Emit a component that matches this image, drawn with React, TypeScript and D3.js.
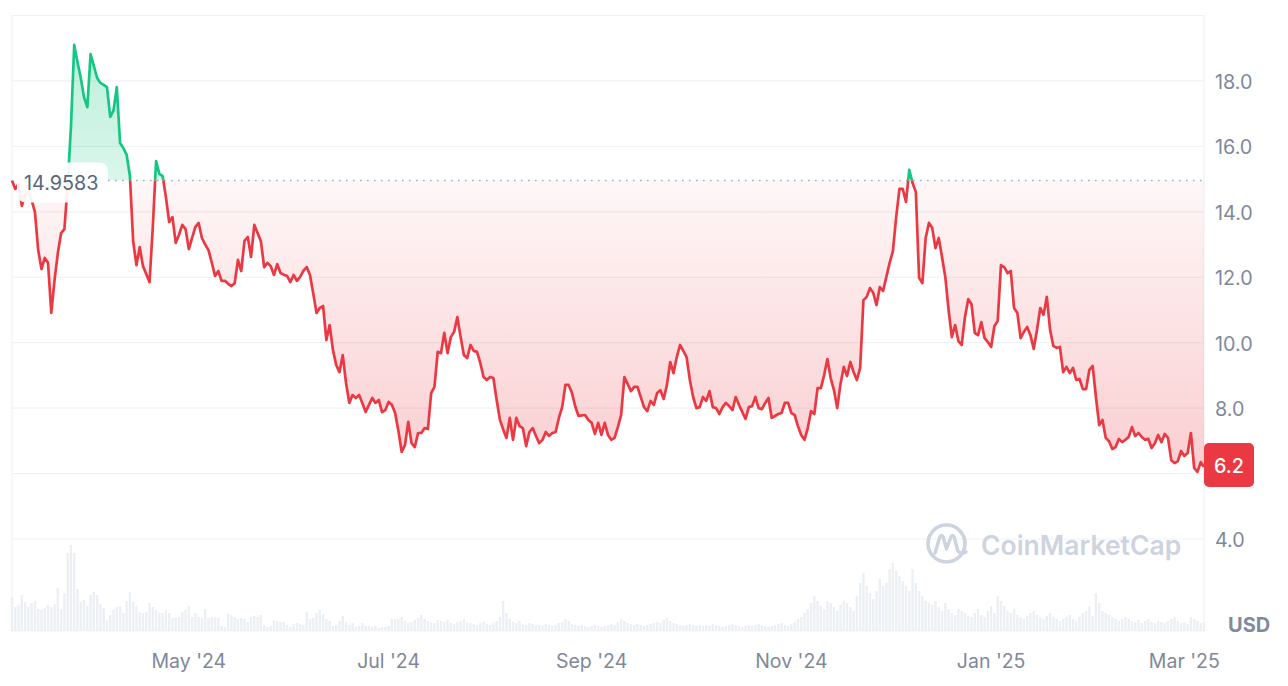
import React, { useRef, useEffect } from 'react';
import * as d3 from 'd3';

// daily series, first day below, one value per day
const startDate = new Date(2024, 2, 8);
const endDate = new Date(2025, 2, 7);
const baselinePrice = 14.9583;
const lastPriceLabel = '6.2';

const prices = [
  14.96, 14.70, 14.85, 14.18, 14.51, 14.61, 14.36, 13.99, 12.83, 12.25,
  12.59, 12.44, 10.91, 11.92, 12.74, 13.35, 13.47, 14.82, 16.59, 19.10,
  18.58, 18.09, 17.50, 17.20, 18.82, 18.45, 18.09, 17.94, 17.88, 17.81,
  16.90, 17.10, 17.81, 16.10, 15.95, 15.75, 15.10, 13.10, 12.37, 12.92,
  12.34, 12.10, 11.85, 13.54, 15.55, 15.16, 15.09, 14.45, 13.69, 13.84,
  13.05, 13.30, 13.60, 13.47, 12.86, 13.20, 13.54, 13.66, 13.20, 13.00,
  12.83, 12.45, 12.04, 12.19, 11.89, 11.89, 11.80, 11.73, 11.82, 12.53,
  12.19, 13.11, 13.23, 12.62, 13.60, 13.35, 13.10, 12.31, 12.44, 12.34,
  12.07, 12.40, 12.13, 12.08, 12.04, 11.85, 12.07, 11.89, 12.01, 12.20,
  12.31, 12.07, 11.50, 10.91, 11.06, 11.12, 10.08, 10.54, 9.78, 9.32,
  9.10, 9.62, 8.77, 8.16, 8.40, 8.31, 8.40, 8.15, 7.88, 8.10,
  8.31, 8.16, 8.25, 7.88, 7.94, 8.19, 8.10, 7.85, 7.30, 6.66,
  6.87, 7.58, 6.93, 6.81, 7.24, 7.24, 7.39, 7.36, 8.46, 8.65,
  9.72, 9.68, 10.30, 9.68, 10.17, 10.33, 10.78, 10.17, 9.62, 9.53,
  9.93, 9.75, 9.72, 9.38, 8.95, 8.86, 8.95, 8.92, 8.25, 7.64,
  7.35, 7.09, 7.70, 7.03, 7.70, 7.45, 7.39, 6.84, 7.27, 7.39,
  7.15, 6.93, 7.03, 7.27, 7.15, 7.24, 7.27, 7.70, 8.03, 8.71,
  8.71, 8.46, 8.05, 7.76, 7.78, 7.79, 7.64, 7.55, 7.21, 7.55,
  7.18, 7.55, 7.18, 7.03, 7.09, 7.42, 7.79, 8.95, 8.74, 8.52,
  8.65, 8.65, 8.34, 8.03, 7.91, 8.22, 8.10, 8.46, 8.55, 8.28,
  8.71, 9.41, 9.07, 9.56, 9.93, 9.75, 9.56, 8.86, 8.34, 8.00,
  8.03, 8.34, 8.22, 8.52, 8.03, 8.00, 7.82, 8.03, 8.16, 8.06,
  7.94, 8.34, 8.10, 7.88, 7.67, 8.03, 8.06, 8.34, 8.00, 7.97,
  8.16, 8.31, 7.70, 7.76, 7.82, 7.85, 8.16, 8.16, 7.85, 7.79,
  7.45, 7.18, 7.03, 7.39, 7.91, 7.82, 8.61, 8.61, 9.01, 9.50,
  8.92, 8.55, 8.00, 8.74, 9.26, 8.98, 9.41, 9.10, 8.86, 9.23,
  11.30, 11.40, 11.67, 11.52, 11.15, 11.70, 11.58, 12.01, 12.44, 12.80,
  13.84, 14.70, 14.70, 14.30, 15.28, 14.88, 14.61, 11.98, 11.82, 13.20,
  13.66, 13.51, 12.89, 13.20, 12.62, 12.01, 11.00, 10.17, 10.54, 10.05,
  9.93, 10.78, 11.33, 11.18, 10.30, 10.23, 10.63, 10.14, 10.02, 9.87,
  10.51, 10.66, 12.37, 12.31, 12.13, 12.19, 11.06, 10.91, 10.14, 10.33,
  10.48, 10.23, 9.81, 10.39, 11.06, 10.85, 11.40, 10.39, 9.90, 9.84,
  9.87, 9.10, 9.26, 9.07, 9.23, 8.86, 8.89, 8.58, 8.58, 9.17,
  9.29, 8.34, 7.48, 7.64, 7.09, 6.99, 6.75, 6.81, 7.06, 6.96,
  7.03, 7.12, 7.42, 7.15, 7.24, 7.12, 7.03, 7.06, 6.78, 6.93,
  7.18, 6.96, 7.21, 7.09, 6.41, 6.32, 6.38, 6.69, 6.54, 6.63,
  7.24, 6.17, 6.05, 6.35, 6.20,
];

// volume, arbitrary units (millions)
const volumes = [
  34, 24, 26, 36, 29, 24, 28, 30, 22, 21, 23, 26, 24, 27, 43, 22, 38, 78, 86, 78,
  42, 29, 31, 25, 36, 39, 36, 27, 23, 11, 16, 21, 24, 25, 18, 30, 39, 29, 25, 19,
  18, 19, 28, 24, 21, 18, 18, 21, 18, 13, 13, 14, 19, 21, 25, 14, 18, 14, 13, 22,
  13, 14, 14, 13, 5, 4, 17, 16, 14, 12, 13, 12, 9, 14, 15, 14, 16, 6, 4, 5,
  11, 10, 9, 9, 6, 4, 7, 8, 7, 6, 19, 12, 13, 18, 21, 17, 12, 10, 5, 6,
  10, 15, 9, 6, 8, 4, 5, 8, 5, 5, 4, 5, 3, 4, 4, 5, 12, 12,
  12, 14, 10, 8, 9, 11, 13, 16, 12, 10, 9, 8, 11,
  10, 9, 11, 8, 7, 9, 10, 12, 9, 8, 7, 6, 8, 9, 7, 6, 8,
  10, 14, 30, 18, 12, 9, 8, 10, 7, 6, 8, 7, 6,
  6, 5, 7, 6, 5, 6, 8, 9, 12, 10, 7, 6, 5, 6, 5, 4, 5, 6, 5, 4, 5, 6, 7, 6, 9,
  12, 10, 8, 7, 6, 7, 6, 5, 6, 7, 8, 9, 8, 11, 13, 10, 8, 7, 6, 5, 6, 7, 6, 5, 6,
  5, 6, 5, 7, 6, 5, 4, 5, 6, 7, 6, 5, 4, 5, 6, 5, 6, 7, 6, 5, 4, 5, 6, 7, 8, 6, 5, 7, 9, 12,
  14, 18, 22, 28, 35, 30, 25, 22, 30, 28, 24, 20, 26, 30, 28, 24, 20, 35, 48, 58,
  45, 38, 32, 40, 52, 45, 48, 62, 68, 60, 55, 50, 45, 40, 62, 48, 40, 35, 30, 28,
  26, 30, 24, 20, 28, 22, 18, 16, 22, 20, 18, 15, 14, 18, 22, 16, 14, 20, 25, 18,
  35, 30, 25, 20, 18, 22, 16, 14, 12, 15, 18, 20, 16, 14, 12, 15, 18, 14, 12, 10,
  12, 14, 16, 12, 10, 14, 18, 20, 25, 15, 38, 28, 20, 18, 16, 14, 12, 10, 12, 14,
  12, 10, 9, 11, 8, 10, 12, 9, 8, 10, 9, 8, 10, 12, 14, 10, 8, 9, 7, 14, 12, 10, 8, 9,
];

const priceTicks = [4, 6, 8, 10, 12, 14, 16, 18, 20];
const monthTicks = ['2024-05-01', '2024-07-01', '2024-09-01', '2024-11-01', '2025-01-01', '2025-03-01'];

const RED = '#ea3943';
const GREEN = '#16c784';

export default function App() {
  const svgRef = useRef<SVGSVGElement>(null);

  useEffect(() => {
    if (!svgRef.current) return;
    const svg = d3.select(svgRef.current);
    svg.selectAll('*').remove();

    const width = 1288;
    const height = 686;
    const left = 12;
    const right = 1204;
    const volBottom = 631;

    const data = prices.map((p, i) => ({
      date: d3.timeDay.offset(startDate, i),
      price: p,
      volume: volumes[i] ?? 0,
    }));

    const x = d3.scaleTime().domain([startDate, endDate]).range([left, right]);
    const y = d3.scaleLinear().domain([4, 20]).range([539, 15.5]);
    const yVol = d3.scaleLinear().domain([0, 100]).range([volBottom, volBottom - 100]);
    const base = y(baselinePrice);

    const defs = svg.append('defs');
    defs.append('clipPath').attr('id', 'clip-above')
      .append('rect').attr('x', 0).attr('y', 0).attr('width', width).attr('height', base);
    defs.append('clipPath').attr('id', 'clip-below')
      .append('rect').attr('x', 0).attr('y', base).attr('width', width).attr('height', height - base);

    const redGrad = defs.append('linearGradient').attr('id', 'red-grad')
      .attr('gradientUnits', 'userSpaceOnUse')
      .attr('x1', 0).attr('x2', 0).attr('y1', base).attr('y2', y(6));
    redGrad.append('stop').attr('offset', '0%').attr('stop-color', RED).attr('stop-opacity', 0.04);
    redGrad.append('stop').attr('offset', '100%').attr('stop-color', RED).attr('stop-opacity', 0.25);

    const greenGrad = defs.append('linearGradient').attr('id', 'green-grad')
      .attr('gradientUnits', 'userSpaceOnUse')
      .attr('x1', 0).attr('x2', 0).attr('y1', y(19)).attr('y2', base);
    greenGrad.append('stop').attr('offset', '0%').attr('stop-color', GREEN).attr('stop-opacity', 0.28);
    greenGrad.append('stop').attr('offset', '100%').attr('stop-color', GREEN).attr('stop-opacity', 0.16);

    svg.append('rect').attr('width', width).attr('height', height).attr('fill', '#fff');

    // grid lines
    svg.append('g').selectAll('line')
      .data(priceTicks)
      .enter().append('line')
      .attr('x1', left).attr('x2', right)
      .attr('y1', d => y(d)).attr('y2', d => y(d))
      .attr('stroke', '#eff2f5').attr('stroke-width', 1.2);

    svg.append('line').attr('x1', left).attr('x2', left).attr('y1', y(20)).attr('y2', volBottom)
      .attr('stroke', '#eff2f5').attr('stroke-width', 1.2);
    svg.append('line').attr('x1', right).attr('x2', right).attr('y1', y(20)).attr('y2', volBottom)
      .attr('stroke', '#eff2f5').attr('stroke-width', 1.2);
    svg.append('line').attr('x1', left).attr('x2', right).attr('y1', volBottom).attr('y2', volBottom)
      .attr('stroke', '#f3f5f8').attr('stroke-width', 1);

    // volume bars
    const barW = (x(d3.timeDay.offset(startDate, 1)) - x(startDate)) * 0.72;
    svg.append('g').selectAll('rect')
      .data(data)
      .enter().append('rect')
      .attr('x', d => x(d.date) - barW / 2)
      .attr('y', d => yVol(d.volume))
      .attr('width', barW)
      .attr('height', d => volBottom - yVol(d.volume))
      .attr('fill', '#eceff3');

    // watermark
    const wm = svg.append('g');
    wm.append('circle').attr('cx', 946.5).attr('cy', 543.5).attr('r', 18.5)
      .attr('fill', 'none').attr('stroke', '#cdd3df').attr('stroke-width', 3.6);
    wm.append('path')
      .attr('d', 'M935 553 L939.5 538 Q941.5 533 943.5 538 L946.5 549 L950.5 538 Q952.5 533 954.5 538 L957.5 550 Q959.5 555 966 552')
      .attr('fill', 'none').attr('stroke', '#cdd3df').attr('stroke-width', 3.4)
      .attr('stroke-linecap', 'round').attr('stroke-linejoin', 'round');
    wm.append('text').attr('x', 981).attr('y', 545)
      .attr('dominant-baseline', 'central')
      .attr('font-size', 26.5).attr('font-weight', 600)
      .attr('fill', '#cdd3df')
      .text('CoinMarketCap');

    const area = d3.area<{ date: Date; price: number }>()
      .x(d => x(d.date))
      .y0(base)
      .y1(d => y(d.price));
    const line = d3.line<{ date: Date; price: number }>()
      .x(d => x(d.date))
      .y(d => y(d.price));

    svg.append('path').datum(data).attr('d', area)
      .attr('fill', 'url(#green-grad)').attr('clip-path', 'url(#clip-above)');
    svg.append('path').datum(data).attr('d', area)
      .attr('fill', 'url(#red-grad)').attr('clip-path', 'url(#clip-below)');

    // baseline
    svg.append('line').attr('x1', 108).attr('x2', right).attr('y1', base).attr('y2', base)
      .attr('stroke', '#a6b0c3').attr('stroke-width', 1.6)
      .attr('stroke-dasharray', '1.6,5.4');

    svg.append('path').datum(data).attr('d', line)
      .attr('fill', 'none').attr('stroke', GREEN).attr('stroke-width', 2.7)
      .attr('stroke-linejoin', 'round').attr('clip-path', 'url(#clip-above)');
    svg.append('path').datum(data).attr('d', line)
      .attr('fill', 'none').attr('stroke', RED).attr('stroke-width', 2.7)
      .attr('stroke-linejoin', 'round').attr('clip-path', 'url(#clip-below)');

    // baseline label
    svg.append('rect').attr('x', 17).attr('y', base - 18).attr('width', 91).attr('height', 40)
      .attr('rx', 8).attr('fill', '#fff').attr('opacity', 0.92);
    svg.append('text').attr('x', 24).attr('y', base + 3)
      .attr('dominant-baseline', 'central')
      .attr('font-size', 19.8).attr('fill', '#58667e')
      .text(d3.format('.4f')(baselinePrice));

    // y axis labels
    const lastY = y(prices[prices.length - 1]);
    svg.append('g').selectAll('text')
      .data(priceTicks.filter(t => t < 20 && Math.abs(y(t) - lastY) > 24))
      .enter().append('text')
      .attr('x', 1215).attr('y', d => y(d) + 1)
      .attr('dominant-baseline', 'central')
      .attr('font-size', 19.8).attr('fill', '#7f889b')
      .text(d => d3.format('.1f')(d));

    // last price badge
    svg.append('rect').attr('x', right).attr('y', lastY - 24).attr('width', 50).attr('height', 44)
      .attr('rx', 5).attr('fill', RED);
    svg.append('text').attr('x', right + 25).attr('y', lastY - 1)
      .attr('text-anchor', 'middle').attr('dominant-baseline', 'central')
      .attr('font-size', 19.8).attr('font-weight', 500).attr('fill', '#fff')
      .text(lastPriceLabel);

    svg.append('text').attr('x', 1228).attr('y', 625)
      .attr('dominant-baseline', 'central')
      .attr('font-size', 20).attr('font-weight', 700).attr('fill', '#808a9d')
      .text('USD');

    // x axis labels
    const fmt = d3.timeFormat("%b '%y");
    svg.append('g').selectAll('text')
      .data(monthTicks.map(s => d3.timeParse('%Y-%m-%d')(s) as Date))
      .enter().append('text')
      .attr('x', d => x(d)).attr('y', 661)
      .attr('text-anchor', 'middle').attr('dominant-baseline', 'central')
      .attr('font-size', 19.5).attr('fill', '#7f889b')
      .text(d => fmt(d));
  }, []);

  return (
    <svg
      ref={svgRef}
      width={1288}
      height={686}
      style={{ position: 'absolute', left: 0, top: 0, fontFamily: 'Inter, sans-serif' }}
    />
  );
}
